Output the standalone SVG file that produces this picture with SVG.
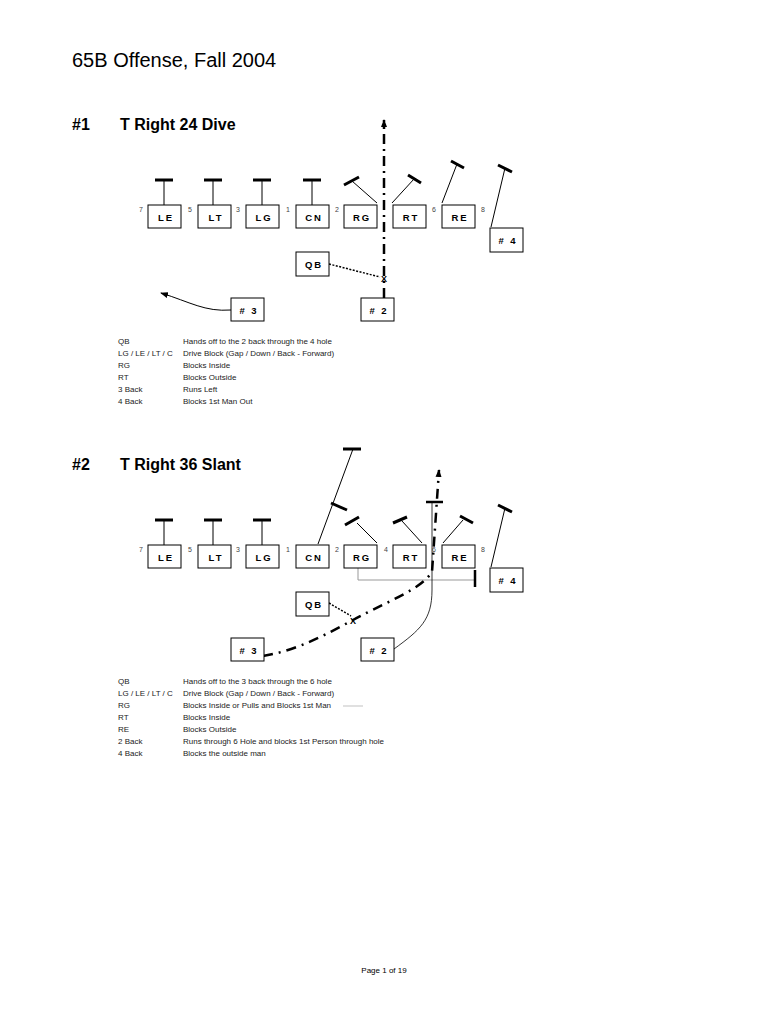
<svg xmlns="http://www.w3.org/2000/svg" width="768" height="1024" viewBox="0 0 768 1024">
<style>
text{font-family:"Liberation Sans",Arial,sans-serif;fill:#000}
.box rect{fill:#fff;stroke:#000;stroke-width:1}
.box text{font-size:9.5px;font-weight:bold;text-anchor:middle;letter-spacing:2px}
.num{font-size:7px;fill:#444}
.blk{stroke:#000;stroke-width:1;fill:none}
.bar{stroke:#000;stroke-width:3}
.t{font-size:8px;fill:#222}
.h{font-size:16px;font-weight:bold}
</style>
<defs>
<marker id="ah" markerWidth="8" markerHeight="8" refX="7" refY="4" orient="auto" markerUnits="userSpaceOnUse"><path d="M0,1 L8,4 L0,7 Z" fill="#000"/></marker>
</defs>
<rect width="768" height="1024" fill="#fff"/>
<text x="72" y="67" font-size="20">65B Offense, Fall 2004</text>

<!-- Play 1 -->
<text class="h" x="72" y="130">#1</text>
<text class="h" x="120" y="130">T Right 24 Dive</text>
<text class="num" x="139" y="212">7</text><text class="num" x="188" y="212">5</text><text class="num" x="236" y="212">3</text><text class="num" x="286" y="212">1</text><text class="num" x="335" y="212">2</text><text class="num" x="432" y="212">6</text><text class="num" x="481" y="212">8</text>
<g id="connectors1">
<path class="blk" d="M164,205V180M213,205V180M262,205V180M312,205V180"/>
<path class="bar" d="M155,180h18M204,180h18M253,180h18M303,180h18"/>
<path class="blk" d="M377,203L352,181M392,203L414,179M442,203L457,164M491,227L505,168"/>
<path class="bar" d="M344,185L359,177M408,175L421,183M451,161L464,168M498,165L512,172"/>
<path d="M384,298V120" stroke="#000" stroke-width="2.5" fill="none" stroke-dasharray="10,5,2,5" marker-end="url(#ah)"/>
<path d="M329,264L380,277" stroke="#000" stroke-width="1.5" stroke-dasharray="2,1.5" fill="none"/>
<text x="384" y="282" font-size="9" font-weight="bold" text-anchor="middle">X</text>
<path d="M231,310C205,312 190,302 161,293" stroke="#000" stroke-width="1" fill="none" marker-end="url(#ah)"/>
</g>
<g id="LE1" class="box"><rect x="148" y="205" width="33" height="23"/><text x="166" y="221">LE</text></g>
<g id="LT1" class="box"><rect x="198" y="205" width="33" height="23"/><text x="216" y="221">LT</text></g>
<g id="LG1" class="box"><rect x="246" y="205" width="33" height="23"/><text x="264" y="221">LG</text></g>
<g id="CN1" class="box"><rect x="296" y="205" width="33" height="23"/><text x="314" y="221">CN</text></g>
<g id="RG1" class="box"><rect x="344" y="205" width="33" height="23"/><text x="362" y="221">RG</text></g>
<g id="RT1" class="box"><rect x="393" y="205" width="33" height="23"/><text x="411" y="221">RT</text></g>
<g id="RE1" class="box"><rect x="442" y="205" width="33" height="23"/><text x="460" y="221">RE</text></g>
<g id="B4_1" class="box"><rect x="490" y="228" width="33" height="24"/><text x="508" y="244"># 4</text></g>
<g id="QB1" class="box"><rect x="296" y="252" width="33" height="24"/><text x="314" y="268">QB</text></g>
<g id="B3_1" class="box"><rect x="231" y="298" width="33" height="23"/><text x="249" y="314"># 3</text></g>
<g id="B2_1" class="box"><rect x="361" y="298" width="33" height="23"/><text x="379" y="314"># 2</text></g>
<g>
<text class="t" x="118" y="344">QB</text><text class="t" x="183" y="344">Hands off to the 2 back through the 4 hole</text>
<text class="t" x="118" y="356">LG / LE / LT / C</text><text class="t" x="183" y="356">Drive Block (Gap / Down / Back - Forward)</text>
<text class="t" x="118" y="368">RG</text><text class="t" x="183" y="368">Blocks Inside</text>
<text class="t" x="118" y="380">RT</text><text class="t" x="183" y="380">Blocks Outside</text>
<text class="t" x="118" y="392">3 Back</text><text class="t" x="183" y="392">Runs Left</text>
<text class="t" x="118" y="404">4 Back</text><text class="t" x="183" y="404">Blocks 1st Man Out</text>
</g>

<!-- Play 2 -->
<text class="h" x="72" y="470">#2</text>
<text class="h" x="120" y="470">T Right 36 Slant</text>
<text class="num" x="139" y="552">7</text><text class="num" x="188" y="552">5</text><text class="num" x="236" y="552">3</text><text class="num" x="286" y="552">1</text><text class="num" x="335" y="552">2</text><text class="num" x="384" y="552">4</text><text class="num" x="432" y="552">6</text><text class="num" x="481" y="552">8</text>
<g id="connectors2">
<path class="blk" d="M164,545V520M213,545V520M262,545V520"/>
<path class="bar" d="M155,520h18M204,520h18M253,520h18"/>
<path class="blk" d="M318,544L353,449M377,543L357,523M422,543L402,521M443,543L463,520M491,567L505,508"/>
<path class="bar" d="M343,449h18M331,503L347,510M345,525L359,517M393,523L407,517M460,516L473,523M498,505L512,512"/>
<path d="M358,568V580H475" stroke="#999" stroke-width="1" fill="none"/>
<path d="M475,570V587" stroke="#000" stroke-width="2.5"/>
<path d="M394,649C420,630 432,620 432,590V502" stroke="#000" stroke-width="0.8" fill="none"/>
<path d="M426,502h17" stroke="#000" stroke-width="2.5"/>
<path d="M263,656C300,650 330,632 353,620C390,600 420,590 432,572L439,470" stroke="#000" stroke-width="2.5" fill="none" stroke-dasharray="10,6,2,6" marker-end="url(#ah)"/>
<path d="M329,603L351,616" stroke="#000" stroke-width="1.5" stroke-dasharray="2,1.5" fill="none"/>
<text x="353" y="624" font-size="9" font-weight="bold" text-anchor="middle">X</text>
</g>
<g id="LE2" class="box"><rect x="148" y="545" width="33" height="23"/><text x="166" y="561">LE</text></g>
<g id="LT2" class="box"><rect x="198" y="545" width="33" height="23"/><text x="216" y="561">LT</text></g>
<g id="LG2" class="box"><rect x="246" y="545" width="33" height="23"/><text x="264" y="561">LG</text></g>
<g id="CN2" class="box"><rect x="296" y="545" width="33" height="23"/><text x="314" y="561">CN</text></g>
<g id="RG2" class="box"><rect x="344" y="545" width="33" height="23"/><text x="362" y="561">RG</text></g>
<g id="RT2" class="box"><rect x="393" y="545" width="33" height="23"/><text x="411" y="561">RT</text></g>
<g id="RE2" class="box"><rect x="442" y="545" width="33" height="23"/><text x="460" y="561">RE</text></g>
<g id="B4_2" class="box"><rect x="490" y="568" width="33" height="24"/><text x="508" y="584"># 4</text></g>
<g id="QB2" class="box"><rect x="296" y="592" width="33" height="24"/><text x="314" y="608">QB</text></g>
<g id="B3_2" class="box"><rect x="231" y="638" width="33" height="23"/><text x="249" y="654"># 3</text></g>
<g id="B2_2" class="box"><rect x="361" y="638" width="33" height="23"/><text x="379" y="654"># 2</text></g>
<g>
<text class="t" x="118" y="684">QB</text><text class="t" x="183" y="684">Hands off to the 3 back through the 6 hole</text>
<text class="t" x="118" y="696">LG / LE / LT / C</text><text class="t" x="183" y="696">Drive Block (Gap / Down / Back - Forward)</text>
<text class="t" x="118" y="708">RG</text><text class="t" x="183" y="708">Blocks Inside or Pulls and Blocks 1st Man</text>
<path d="M343,706h20" stroke="#999" stroke-width="0.6"/>
<text class="t" x="118" y="720">RT</text><text class="t" x="183" y="720">Blocks Inside</text>
<text class="t" x="118" y="732">RE</text><text class="t" x="183" y="732">Blocks Outside</text>
<text class="t" x="118" y="744">2 Back</text><text class="t" x="183" y="744">Runs through 6 Hole and blocks 1st Person through hole</text>
<text class="t" x="118" y="756">4 Back</text><text class="t" x="183" y="756">Blocks the outside man</text>
</g>
<text x="384" y="973" font-size="8" text-anchor="middle">Page 1 of 19</text>
</svg>
